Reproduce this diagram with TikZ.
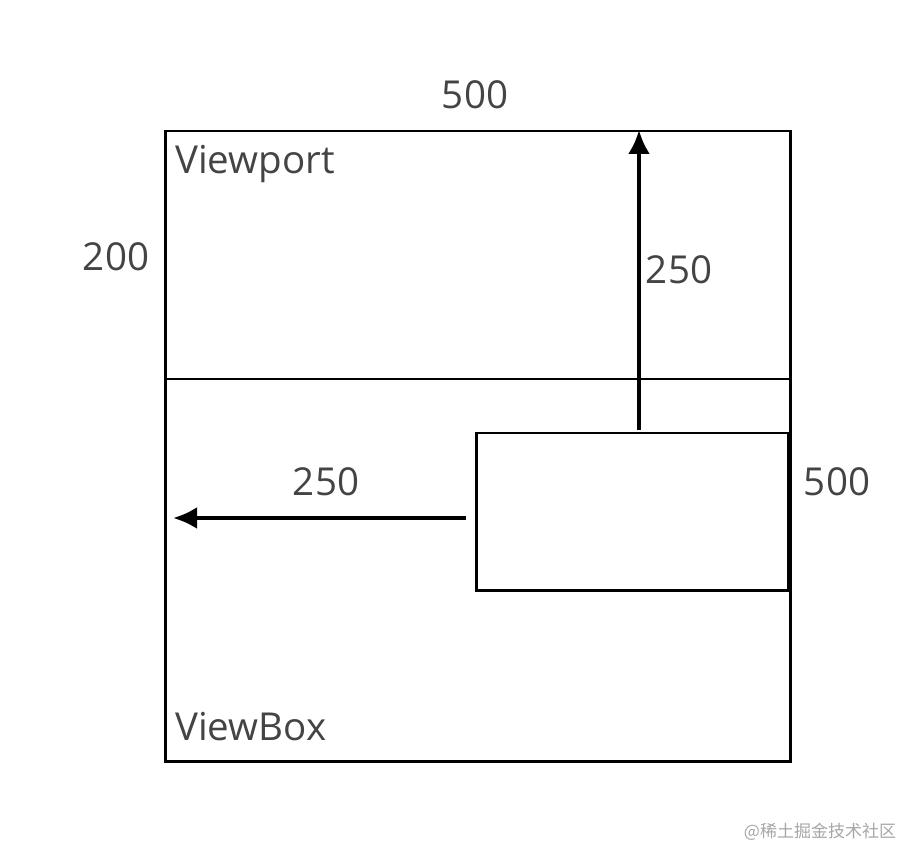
\documentclass[tikz,border=0pt]{standalone}
\usepackage{fontspec}
\setmainfont{Open Sans}
\newfontfamily\cjk{Noto Sans CJK SC}
\definecolor{txt}{HTML}{444444}
\begin{document}
\begin{tikzpicture}[x=1pt,y=-1pt,
  box/.style={draw=black,line width=2.5pt},
  lbl/.style={text=txt,font=\fontsize{38.5}{44}\selectfont,inner sep=0pt},
  arr/.style={line width=4pt,-{Latex[length=24pt,width=22pt]}}]
\usetikzlibrary{arrows.meta}
\useasboundingbox (0,0) rectangle (924,866);
\node[box,minimum width=625pt,minimum height=630pt,inner sep=0pt,anchor=north west] (outer) at (164,130) {};
\coordinate (hl) at (164,379); \coordinate (hr) at (789,379);
\draw[line width=2.5pt] (hl) -- (hr);
\node[box,minimum width=312pt,minimum height=157pt,inner sep=0pt,anchor=north west] (inner) at (475,432) {};
\coordinate (vs) at (639,430); \coordinate (ve) at (639,130);
\draw[arr] (vs) -- (ve);
\coordinate (hs) at (466,518); \coordinate (he) at (173,518);
\draw[arr] (hs) -- (he);
\node[lbl] (t1) at (475,95) {500};
\node[lbl,anchor=west] (t2) at (175,164) {Viewport};
\node[lbl] (t3) at (116,257) {200};
\node[lbl] (t4) at (679,270) {250};
\node[lbl] (t5) at (326,482) {250};
\node[lbl] (t6) at (837,482) {500};
\node[lbl,anchor=west] (t7) at (175,727) {ViewBox};
\node[text=gray!70,font=\cjk\fontsize{17}{20}\selectfont,inner sep=0pt] (wm) at (820,832) {@稀土掘金技术社区};
\end{tikzpicture}
\end{document}
